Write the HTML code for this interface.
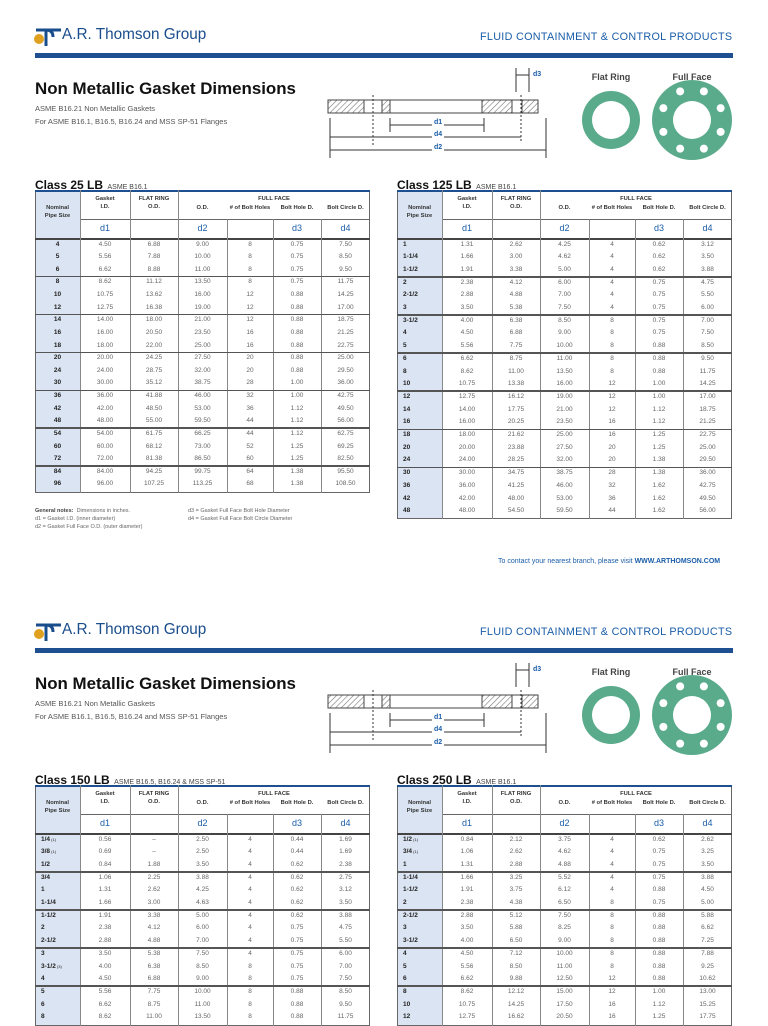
<!DOCTYPE html>
<html><head><meta charset="utf-8">
<style>
html,body{margin:0;padding:0;background:#fff;}
body{width:768px;height:1024px;position:relative;overflow:hidden;font-family:"Liberation Sans",sans-serif;}
.a{position:absolute;white-space:nowrap;}
</style></head><body>
<div id="root"></div>
<script>
var R=document.getElementById('root');var H='';
function t(x,y,s,css){H+='<div class="a" style="left:'+x+'px;top:'+y+'px;'+(css||'')+'">'+s+'</div>';}
function c(x,y,w,s,css){H+='<div class="a" style="left:'+x+'px;top:'+y+'px;width:'+w+'px;text-align:center;'+(css||'')+'">'+s+'</div>';}
function box(x,y,w,h,css){H+='<div class="a" style="left:'+x+'px;top:'+y+'px;width:'+w+'px;height:'+h+'px;'+css+'"></div>';}

function page(o){
 H+='<svg class="a" style="left:33px;top:'+(27+o)+'px" width="30" height="20"><circle cx="6" cy="12" r="5" fill="#e0a020"/><path d="M3 3 H28 M13 3 V19 M13 3 Q20 3 20 10" stroke="#1a4d8c" stroke-width="3" fill="none"/></svg>';
 t(62,26+o,'A.R. Thomson Group','font-size:15.3px;color:#1a4d8c;');
 t(480,31+o,'FLUID CONTAINMENT &amp; CONTROL PRODUCTS','font-size:10.8px;color:#1a5da8;letter-spacing:0.3px;');
 box(35,53+o,698,5,'background:#1d4f91;');
 t(35,79+o,'Non Metallic Gasket Dimensions','font-size:16.9px;font-weight:bold;color:#111;');
 t(35,104+o,'ASME B16.21 Non Metallic Gaskets','font-size:7.5px;color:#555;');
 t(35,117+o,'For ASME B16.1, B16.5, B16.24 and MSS SP-51 Flanges','font-size:7.5px;color:#555;');
 var s='<svg class="a" style="left:320px;top:'+(60+o)+'px" width="240" height="100"><defs><pattern id="h'+o+'" width="4" height="4" patternUnits="userSpaceOnUse" patternTransform="rotate(45)"><line x1="0" y1="0" x2="0" y2="4" stroke="#777" stroke-width="1.2"/></pattern></defs>';
 s+='<rect x="8" y="40" width="36" height="13" fill="url(#h'+o+')" stroke="#444"/><rect x="44" y="40" width="18" height="13" fill="#fff" stroke="#444"/><rect x="62" y="40" width="8" height="13" fill="url(#h'+o+')" stroke="#444"/>';
 s+='<rect x="70" y="40" width="92" height="13" fill="#fff" stroke="#444"/><rect x="162" y="40" width="30" height="13" fill="url(#h'+o+')" stroke="#444"/><rect x="192" y="40" width="10" height="13" fill="#fff" stroke="#444"/><rect x="202" y="40" width="16" height="13" fill="url(#h'+o+')" stroke="#444"/>';
 s+='<line x1="196" y1="8" x2="196" y2="32" stroke="#333"/><line x1="209" y1="8" x2="209" y2="32" stroke="#333"/><line x1="196" y1="15" x2="209" y2="15" stroke="#333"/>';
 s+='<line x1="53" y1="35" x2="53" y2="85" stroke="#333" stroke-dasharray="2,2"/><line x1="201" y1="35" x2="201" y2="82" stroke="#333" stroke-dasharray="2,2"/>';
 s+='<line x1="10" y1="58" x2="10" y2="98" stroke="#333"/><line x1="70" y1="58" x2="70" y2="72" stroke="#333"/><line x1="164" y1="58" x2="164" y2="72" stroke="#333"/><line x1="226" y1="58" x2="226" y2="98" stroke="#333"/>';
 s+='<line x1="70" y1="65" x2="164" y2="65" stroke="#333"/><line x1="10" y1="77" x2="201" y2="77" stroke="#333"/><line x1="10" y1="90" x2="226" y2="90" stroke="#333"/></svg>';
 H+=s;
 t(533,71+o,'d3','font-size:7px;color:#1a5da8;font-weight:bold;');
 t(432,119+o,'d1','font-size:7px;color:#1a5da8;font-weight:bold;background:#fff;padding:0 2px;');
 t(432,131+o,'d4','font-size:7px;color:#1a5da8;font-weight:bold;background:#fff;padding:0 2px;');
 t(432,144+o,'d2','font-size:7px;color:#1a5da8;font-weight:bold;background:#fff;padding:0 2px;');
 c(581,72+o,60,'Flat Ring','font-size:9px;font-weight:bold;color:#444;');
 c(662,72+o,60,'Full Face','font-size:9px;font-weight:bold;color:#444;');
 var g='<svg class="a" style="left:576px;top:'+(78+o)+'px" width="170" height="85"><circle cx="35" cy="42" r="29" fill="#5aab8c"/><circle cx="35" cy="42" r="19" fill="#fff"/>';
 g+='<circle cx="116" cy="42" r="40" fill="#5aab8c"/><circle cx="116" cy="42" r="19" fill="#fff"/>';
 for(var i=0;i<8;i++){var a=i*Math.PI/4+Math.PI/8;g+='<circle cx="'+(116+31*Math.cos(a))+'" cy="'+(42+31*Math.sin(a))+'" r="4" fill="#fff"/>';}
 g+='</svg>';H+=g;
}

function table(x,y,title,sub,rows,groups,rh,left){
 t(x,y-14,'<b style="font-size:12px;color:#111">'+title+'</b> <span style="font-size:7px;color:#444">'+sub+'</span>','');
 var cols=[0,45,95,143,192,238,286,335];var W=335;
 var end=y+48+rows.length*rh+2;
 box(x,y,45,end-y,'background:#dbe4f2;');
 box(x,y,W,end-y,'border:1px solid #666;box-sizing:border-box;');
 box(x,y,W,2,'background:#1d4f91;');
 var hs='font-size:5.8px;font-weight:bold;color:#333;line-height:8px;';
 c(x,y+14,45,'Nominal<br>Pipe Size',hs);
 c(x+45,y+5,50,'Gasket<br>I.D.',hs);
 c(x+95,y+5,48,'FLAT RING<br>O.D.',hs);
 c(x+143,y+5,192,'FULL FACE',hs);
 c(x+143,y+14,49,'O.D.',hs);c(x+192,y+14,46,'# of Bolt Holes',hs);c(x+238,y+14,48,'Bolt Hole D.',hs);c(x+286,y+14,49,'Bolt Circle D.',hs);
 box(x+45,y+29,W-45,1,'background:#666;');
 box(x,y+48,W,1.5,'background:#444;');
 var dl=['d1','','d2','','d3','d4'];
 for(var i=0;i<6;i++)c(x+cols[i+1],y+33,cols[i+2]-cols[i+1],dl[i],'font-size:9px;color:#1a5da8;');
 for(var i=1;i<7;i++){var top=(i>=4)?y+29:y;box(x+cols[i],top,1,end-top,'background:#888;');}
 var r0=y+48,k=0;
 for(var gi=0;gi<groups.length;gi++){
  if(gi>0)box(x,r0+k*rh,W,1.5,'background:#555;');
  for(var j=0;j<groups[gi];j++){var r=rows[k];var ty=r0+k*rh+2.5;
   if(left)t(x+6,ty,r[0],'font-size:6.5px;font-weight:bold;color:#222;');
   else c(x,ty,45,r[0],'font-size:6.5px;font-weight:bold;color:#222;');
   for(var m=1;m<7;m++)c(x+cols[m],ty,cols[m+1]-cols[m],r[m],'font-size:6.5px;color:#666;');
   k++;}
 }
}
function P(s){return s.trim().split('\n').map(function(l){return l.trim().split(/\s+/).map(function(v){return v.replace('(1)','<span style="font-size:4px;font-weight:normal"> (1)</span>').replace('(3)','<span style="font-size:4px;font-weight:normal"> (3)</span>');});});}

page(0);page(595);
table(35,190,'Class 25 LB','ASME B16.1',P(`
4 4.50 6.88 9.00 8 0.75 7.50
5 5.56 7.88 10.00 8 0.75 8.50
6 6.62 8.88 11.00 8 0.75 9.50
8 8.62 11.12 13.50 8 0.75 11.75
10 10.75 13.62 16.00 12 0.88 14.25
12 12.75 16.38 19.00 12 0.88 17.00
14 14.00 18.00 21.00 12 0.88 18.75
16 16.00 20.50 23.50 16 0.88 21.25
18 18.00 22.00 25.00 16 0.88 22.75
20 20.00 24.25 27.50 20 0.88 25.00
24 24.00 28.75 32.00 20 0.88 29.50
30 30.00 35.12 38.75 28 1.00 36.00
36 36.00 41.88 46.00 32 1.00 42.75
42 42.00 48.50 53.00 36 1.12 49.50
48 48.00 55.00 59.50 44 1.12 56.00
54 54.00 61.75 66.25 44 1.12 62.75
60 60.00 68.12 73.00 52 1.25 69.25
72 72.00 81.38 86.50 60 1.25 82.50
84 84.00 94.25 99.75 64 1.38 95.50
96 96.00 107.25 113.25 68 1.38 108.50`),[3,3,3,3,3,3,2],12.63,false);
table(397,190,'Class 125 LB','ASME B16.1',P(`
1 1.31 2.62 4.25 4 0.62 3.12
1-1/4 1.66 3.00 4.62 4 0.62 3.50
1-1/2 1.91 3.38 5.00 4 0.62 3.88
2 2.38 4.12 6.00 4 0.75 4.75
2-1/2 2.88 4.88 7.00 4 0.75 5.50
3 3.50 5.38 7.50 4 0.75 6.00
3-1/2 4.00 6.38 8.50 8 0.75 7.00
4 4.50 6.88 9.00 8 0.75 7.50
5 5.56 7.75 10.00 8 0.88 8.50
6 6.62 8.75 11.00 8 0.88 9.50
8 8.62 11.00 13.50 8 0.88 11.75
10 10.75 13.38 16.00 12 1.00 14.25
12 12.75 16.12 19.00 12 1.00 17.00
14 14.00 17.75 21.00 12 1.12 18.75
16 16.00 20.25 23.50 16 1.12 21.25
18 18.00 21.62 25.00 16 1.25 22.75
20 20.00 23.88 27.50 20 1.25 25.00
24 24.00 28.25 32.00 20 1.38 29.50
30 30.00 34.75 38.75 28 1.38 36.00
36 36.00 41.25 46.00 32 1.62 42.75
42 42.00 48.00 53.00 36 1.62 49.50
48 48.00 54.50 59.50 44 1.62 56.00`),[3,3,3,3,3,3,4],12.7,true);
table(35,785,'Class 150 LB','ASME B16.5, B16.24 &amp; MSS SP-51',P(`
1/4(1) 0.56 – 2.50 4 0.44 1.69
3/8(1) 0.69 – 2.50 4 0.44 1.69
1/2 0.84 1.88 3.50 4 0.62 2.38
3/4 1.06 2.25 3.88 4 0.62 2.75
1 1.31 2.62 4.25 4 0.62 3.12
1-1/4 1.66 3.00 4.63 4 0.62 3.50
1-1/2 1.91 3.38 5.00 4 0.62 3.88
2 2.38 4.12 6.00 4 0.75 4.75
2-1/2 2.88 4.88 7.00 4 0.75 5.50
3 3.50 5.38 7.50 4 0.75 6.00
3-1/2(3) 4.00 6.38 8.50 8 0.75 7.00
4 4.50 6.88 9.00 8 0.75 7.50
5 5.56 7.75 10.00 8 0.88 8.50
6 6.62 8.75 11.00 8 0.88 9.50
8 8.62 11.00 13.50 8 0.88 11.75`),[3,3,3,3,3],12.7,true);
table(397,785,'Class 250 LB','ASME B16.1',P(`
1/2(1) 0.84 2.12 3.75 4 0.62 2.62
3/4(1) 1.06 2.62 4.62 4 0.75 3.25
1 1.31 2.88 4.88 4 0.75 3.50
1-1/4 1.66 3.25 5.52 4 0.75 3.88
1-1/2 1.91 3.75 6.12 4 0.88 4.50
2 2.38 4.38 6.50 8 0.75 5.00
2-1/2 2.88 5.12 7.50 8 0.88 5.88
3 3.50 5.88 8.25 8 0.88 6.62
3-1/2 4.00 6.50 9.00 8 0.88 7.25
4 4.50 7.12 10.00 8 0.88 7.88
5 5.56 8.50 11.00 8 0.88 9.25
6 6.62 9.88 12.50 12 0.88 10.62
8 8.62 12.12 15.00 12 1.00 13.00
10 10.75 14.25 17.50 16 1.12 15.25
12 12.75 16.62 20.50 16 1.25 17.75`),[3,3,3,3,3],12.7,true);
var ns='font-size:5.5px;color:#666;';
t(35,508,'<b style="color:#444">General notes:</b>&nbsp; Dimensions in inches.',ns);
t(35,516,'d1 = Gasket I.D. (inner diameter)',ns);
t(35,524,'d2 = Gasket Full Face O.D. (outer diameter)',ns);
t(188,508,'d3 = Gasket Full Face Bolt Hole Diameter',ns);
t(188,516,'d4 = Gasket Full Face Bolt Circle Diameter',ns);
t(498,558,'To contact your nearest branch, please visit <b style="color:#1a5da8">WWW.ARTHOMSON.COM</b>','font-size:7px;color:#1a5da8;');
R.innerHTML=H;
</script>
</body></html>
